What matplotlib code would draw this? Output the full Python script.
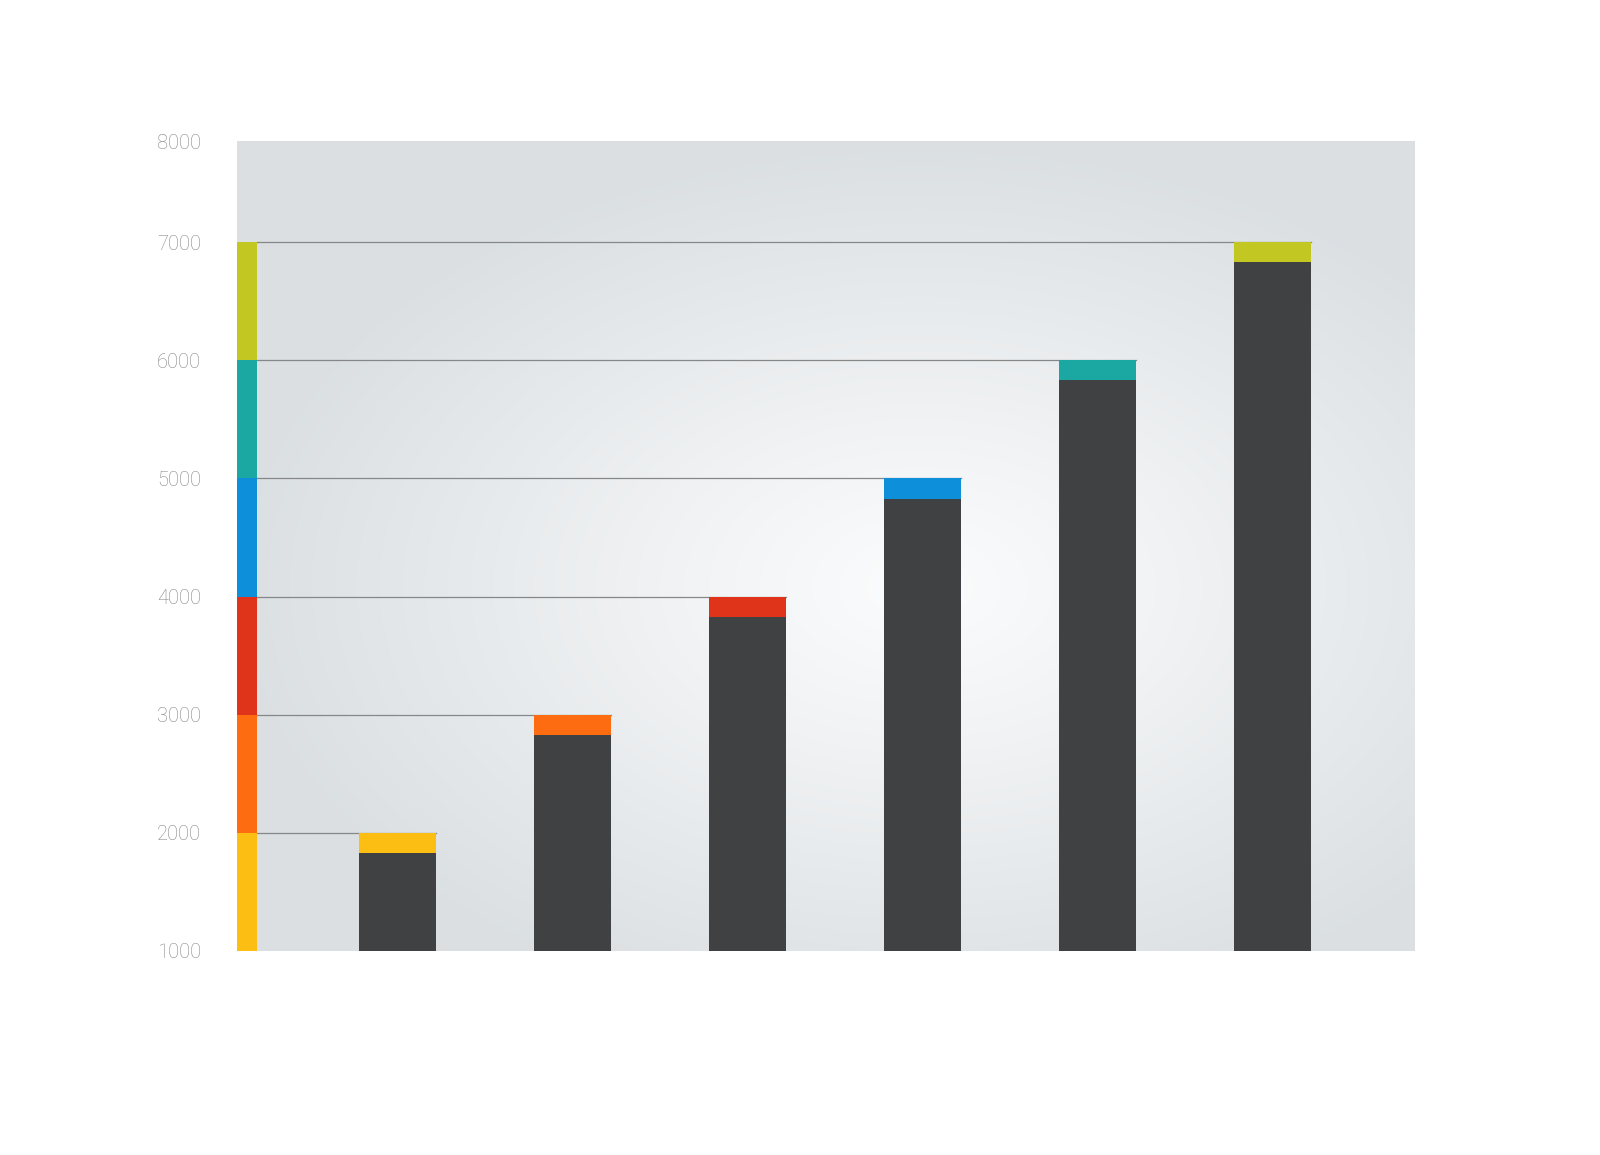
import numpy as np
import matplotlib
matplotlib.use("Agg")
import matplotlib.pyplot as plt

# ---- data ----
categories = ["A", "B", "C", "D", "E", "F"]
totals = [2000, 3000, 4000, 5000, 6000, 7000]
tick_values = [1000, 2000, 3000, 4000, 5000, 6000, 7000]
tick_labels = ["1000", "2000", "3000", "4000", "5000", "6000", "7000"]
top_label = "8000"
level_colors = ["#FDBE13", "#FE6C12", "#E0341A", "#0D8FDA", "#1BA8A2", "#C3C722"]

# ---- style ----
bar_color = "#404142"
cap_height = 170
ymin, ymax = 1000, 7856
x = np.arange(1, len(categories) + 1)
xlim = (0.086, 6.814)
bar_w = 0.44
stripe_l, stripe_r = 0.086, 0.2

fig = plt.figure(figsize=(16, 11.55), dpi=100)
ax = fig.add_axes([237 / 1600, 1 - 951 / 1155, (1415 - 237) / 1600, (951 - 141) / 1155])
ax.set_xlim(*xlim)
ax.set_ylim(ymin, ymax)

# radial gradient background
nx, ny = 400, 300
gx = np.linspace(0, 1, nx)
gy = np.linspace(0, 1, ny)
GX, GY = np.meshgrid(gx, gy)
cx, cy = 0.58, 0.45
d = np.sqrt(((GX - cx) / 0.8) ** 2 + ((GY - cy) / 0.75) ** 2)
d = np.clip(d / 0.72, 0, 1)
c_in = np.array([0.985, 0.987, 0.99])
c_out = np.array([0.86, 0.878, 0.89])
w = d[..., None] ** 1.1
img = c_in[None, None, :] * (1 - w) + c_out[None, None, :] * w
ax.imshow(img, extent=(xlim[0], xlim[1], ymin, ymax), origin="lower",
          aspect="auto", zorder=0, interpolation="bilinear")

# left colour stripe
lows = [ymin] + totals[:-1]
for lo, hi, col in zip(lows, totals, level_colors):
    ax.fill_between([stripe_l, stripe_r], lo, hi, color=col, lw=0, zorder=2)

# bars with caps and guide lines
for xi, tot, col in zip(x, totals, level_colors):
    ax.plot([stripe_r, xi + bar_w / 2], [tot, tot], color="#858788", lw=0.9, zorder=1.5)
    ax.bar(xi, tot - cap_height - ymin, bottom=ymin, width=bar_w, color=bar_color, lw=0, zorder=3)
    ax.bar(xi, cap_height, bottom=tot - cap_height, width=bar_w, color=col, lw=0, zorder=3)

for s in ax.spines.values():
    s.set_visible(False)
ax.set_xticks([])
ax.set_yticks(tick_values + [ymax])
ax.set_yticklabels(tick_labels + [top_label], fontfamily="Roboto", fontweight="light",
                   fontsize=14.5, color="#858585")
ax.tick_params(axis="y", length=0, pad=26)

fig.savefig("out.png", dpi=100, facecolor="white")
